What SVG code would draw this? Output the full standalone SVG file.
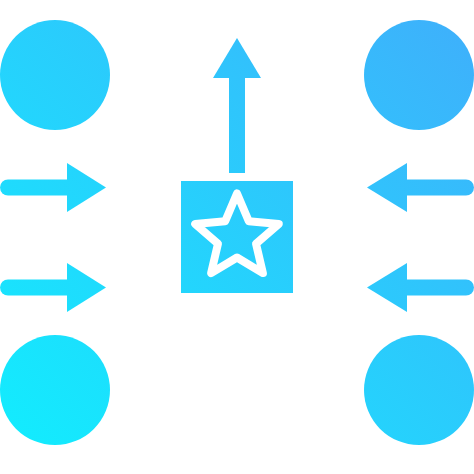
<svg xmlns="http://www.w3.org/2000/svg" width="474" height="474" viewBox="0 0 474 474">
<defs>
<linearGradient id="g" gradientUnits="userSpaceOnUse" x1="0" y1="474" x2="474" y2="0">
<stop offset="0" stop-color="#10effe"/>
<stop offset="1" stop-color="#40aefb"/>
</linearGradient>
<style>
.f{fill:url(#g)}
.s{fill:none;stroke:url(#g);stroke-width:16;stroke-linecap:round}
.st{fill:none;stroke:#fff;stroke-width:8;stroke-linejoin:round}
</style>
</defs>
<g id="circle-tl"><circle class="f" cx="55" cy="75" r="55"/></g>
<g id="circle-tr"><circle class="f" cx="419" cy="75" r="55"/></g>
<g id="circle-bl"><circle class="f" cx="55" cy="390" r="55"/></g>
<g id="circle-br"><circle class="f" cx="419" cy="390" r="55"/></g>
<g id="center-box">
<rect class="f" x="181" y="181" width="112" height="112"/>
<polygon class="st" points="237,193.5 248.8,221.3 278.8,223.9 256,243.7 262.9,273.1 237,257.5 211.1,273.1 218,243.7 195.2,223.9 225.2,221.3"/>
</g>
<g id="connectors">
<path class="s" d="M8,187.5H70"/>
<polygon class="f" points="67,163 106,187.5 67,212"/>
<path class="s" d="M8,287.5H70"/>
<polygon class="f" points="67,263 106,287.5 67,312"/>
<path class="s" d="M466,187.5H404"/>
<polygon class="f" points="407,163 367,187.5 407,212"/>
<path class="s" d="M466,287.5H404"/>
<polygon class="f" points="407,263 367,287.5 407,312"/>
<rect class="f" x="229" y="74" width="16" height="99"/>
<polygon class="f" points="237,38 261,78 213,78"/>
</g>
</svg>
